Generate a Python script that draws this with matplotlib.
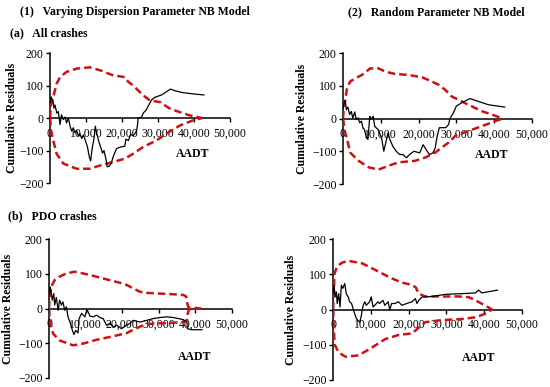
import numpy as np
import matplotlib.pyplot as plt
from matplotlib.ticker import FuncFormatter

plt.rcParams['font.family'] = ['Liberation Serif', 'DejaVu Serif']

# AADT in thousands, cumulative residuals
# (1a) varying dispersion NB, all crashes
vd_all_x = [0, 0.3, 0.5, 0.9, 1.1, 1.4, 1.9, 2.3, 2.8, 3.2, 3.7, 4.2, 4.6, 5.1, 5.6, 6.0, 6.5, 6.9,
            7.4, 7.9, 8.3, 8.8, 9.3, 9.7, 10.4, 10.9, 11.3, 11.7, 12.2, 12.6, 13.0, 13.5, 14.1, 14.6,
            15.0, 15.6, 15.9, 16.5, 17.0, 17.6, 18.5, 19.6, 20.8, 21.1, 21.8, 22.4, 23.1, 23.6, 24.1,
            24.3, 24.5, 25.0, 25.5, 25.9, 26.7, 27.3, 28.2, 29.2, 31.0, 32.4, 33.5, 34.7, 37.0, 40.0, 42.8]
vd_all_y = [45, 65, 60, 50, 30, 40, 15, 20, -20, 10, -5, 3, -15, 0, -25, -40, -30, -45,
            -38, -55, -48, -62, -52, -65, -88, -118, -132, -95, -65, -25, -48, -70, -90, -108,
            -100, -128, -150, -148, -140, -118, -94, -89, -87, -65, -69, -50, -55, -48, -38,
            -23, 0, 1, 3, 15, 24, 37, 55, 64, 71, 81, 89, 84, 78, 74, 71]
vd_all_up_x = [0, 0.3, 0.9, 1.85, 2.8, 4.6, 7.4, 11.1, 13.9, 17.6, 20.8, 21.8, 23.1, 24.5, 25.9,
               27.8, 30.6, 33.3, 36.1, 38.9, 42.3]
vd_all_up_y = [0, 40, 65, 106, 126, 142, 152, 156, 147, 131, 126, 111, 100, 85, 70, 54, 49, 29, 18, 8, 0]
vd_all_lo_x = [0, 0.3, 0.9, 1.85, 3.7, 7.4, 11.1, 13.9, 17.6, 20.8, 23.1, 25.9, 29.6, 32.4, 36.1, 39.8, 42.3]
vd_all_lo_y = [0, -40, -69, -110, -140, -156, -156, -146, -135, -125, -110, -89, -69, -48, -23, -7, 0]

# (2a) random parameter NB, all crashes
rp_all_x = [0, 0.3, 0.6, 0.9, 1.3, 1.76, 2.2, 2.6, 3.1, 3.5, 4.0, 4.4, 4.9, 5.3, 5.7, 6.2, 6.6, 7.1,
            7.5, 8.0, 8.4, 9.3, 10.2, 10.8, 11.2, 11.9, 12.4, 13.2, 14.1, 15.0, 15.9, 16.8, 17.6, 18.8,
            20.3, 21.2, 22.0, 22.9, 23.8, 24.4, 24.9, 25.5, 27.2, 27.95, 28.3, 29.2, 30.0, 31.4, 33.6,
            35.9, 38.5, 42.8]
rp_all_y = [30, 48, 55, 27, 35, 12, 22, 1, 20, -3, 2, -13, -8, -29, -34, -59, -64, 7,
            -2, 7, -24, -34, -59, -100, -80, -44, -64, -85, -100, -110, -110, -120, -110, -100,
            -105, -80, -95, -110, -105, -90, -55, -28, -28, -18, 0, 17, 38, 48, 61,
            52, 42, 35]
rp_all_up_x = [0, 0.2, 0.6, 1.06, 1.9, 3.3, 5.0, 7.2, 9.4, 11.2, 13.8, 17.4, 20.9, 23.5, 25.3, 27.1,
               28.8, 30.6, 33.2, 36.8, 39.4, 42.3]
rp_all_up_y = [0, 30, 57, 92, 113, 123, 133, 153, 153, 143, 136, 133, 126, 113, 103, 87, 67, 57, 42, 22, 12, 0]
rp_all_lo_x = [0, 0.4, 1.06, 1.9, 4.1, 6.8, 9.4, 12.1, 14.7, 19.1, 21.8, 24.4, 26.2, 28.0, 29.7, 33.2,
               36.8, 40.3, 42.3]
rp_all_lo_y = [0, -35, -63, -104, -129, -149, -156, -144, -134, -129, -119, -104, -88, -73, -53, -38,
               -23, -8, 0]

# (1b) varying dispersion NB, PDO crashes
vd_pdo_x = [0, 0.3, 0.5, 0.9, 1.3, 1.55, 2.0, 2.5, 2.9, 3.4, 3.8, 4.3, 4.75, 5.2, 5.85, 6.4, 6.8, 7.3,
            7.95, 8.2, 8.9, 9.8, 10.4, 11.2, 12.1, 13.0, 13.9, 14.8, 15.7, 16.6, 17.6, 18.5, 19.8, 21.2,
            22.1, 23.0, 24.9, 26.7, 28.5, 30.3, 32.2, 34.0, 36.7, 37.7, 37.8, 39.0, 41.8]
vd_pdo_y = [35, 62, 55, 24, 43, 10, 32, -5, 24, 10, 19, -5, 5, -24, -43, -63, -75, -63,
            -70, -30, -14, -24, -3, -22, -24, -19, -26, -29, -48, -43, -53, -48, -58, -48,
            -43, -34, -39, -34, -29, -26, -24, -26, -32, -39, -58, -61, -61]
vd_pdo_up_x = [0, 0.2, 0.6, 1.55, 2.9, 4.75, 7.0, 9.3, 12.1, 15.7, 19.4, 21.2, 23.0, 24.9, 26.7, 30.3,
               34.0, 36.7, 37.5, 37.8, 38.1, 39.5, 41.5]
vd_pdo_up_y = [0, 34, 63, 82, 92, 101, 106, 101, 94, 84, 74, 68, 58, 48, 45, 43, 41, 39, 34, 14, 3, 2, 0]
vd_pdo_lo_x = [0, 0.2, 1.1, 2.9, 6.6, 9.3, 13.0, 16.6, 21.2, 23.0, 25.8, 28.5, 32.2, 36.7, 37.7, 37.9,
               38.3, 41.5]
vd_pdo_lo_y = [0, -34, -72, -92, -106, -101, -90, -82, -71, -61, -48, -43, -42, -39, -34, -14, -2, 0]

# (2b) random parameter NB, PDO crashes
rp_pdo_x = [0, 0.26, 0.6, 0.9, 1.1, 1.5, 1.85, 2.2, 2.6, 3.1, 3.5, 4.0, 4.4, 4.9, 5.3, 5.7, 6.2, 6.6,
            7.1, 7.3, 7.5, 7.7, 8.0, 8.4, 8.8, 9.7, 10.1, 10.6, 11.5, 11.9, 12.3, 13.2, 13.7, 14.6, 15.0,
            15.5, 16.4, 17.3, 18.2, 19.5, 20.9, 21.8, 22.2, 22.7, 23.5, 26.2, 29.7, 34.1, 37.7, 38.5,
            39.4, 43.5]
rp_pdo_y = [45, 69, 36, 50, 17, 45, 7, 69, 60, 74, 45, 36, 22, 17, 3, -11, -26, -31,
            -36, -26, -17, -2, 12, 22, 12, 22, 36, 7, 17, 22, 17, 26, 12, 22, -2,
            17, 17, 22, 12, 17, 22, 31, 17, 26, 35, 37, 43, 45, 47, 55,
            47, 55]
rp_pdo_up_x = [0, 0.2, 0.4, 1.06, 2.4, 4.1, 7.7, 10.3, 13.0, 15.6, 18.3, 20.0, 21.8, 22.7, 24.4, 28.8,
               33.2, 35.9, 37.7, 40.3, 42.1]
rp_pdo_up_y = [0, 55, 102, 122, 133, 138, 131, 117, 102, 88, 76, 72, 64, 45, 37, 37, 37, 35, 26, 11, 0]
rp_pdo_lo_x = [0, 0.4, 1.5, 3.3, 6.8, 10.3, 13.8, 17.4, 20.9, 22.7, 24.4, 28.8, 34.1, 37.7, 40.3, 42.1]
rp_pdo_lo_y = [0, -99, -122, -134, -130, -108, -84, -72, -68, -51, -36, -30, -27, -22, -12, 0]

x_ticks = [0, 10000, 20000, 30000, 40000, 50000]
y_ticks = [-200, -100, 0, 100, 200]

RED = '#d01010'


def draw_panel(ax, bx, by, ux, uy, lx, ly, aadt_xy, ylab_x):
    ax.plot(np.array(ux) * 1000, uy, color=RED, lw=1.8, ls=(0, (3, 1.6)), zorder=3)
    ax.plot(np.array(lx) * 1000, ly, color=RED, lw=1.8, ls=(0, (3, 1.6)), zorder=3)
    ax.plot(np.array(bx) * 1000, by, color='black', lw=0.9, zorder=4)
    ax.set_xlim(0, 50000)
    ax.set_ylim(-200, 200)
    ax.spines['top'].set_visible(False)
    ax.spines['right'].set_visible(False)
    ax.spines['bottom'].set_position(('data', 0))
    ax.spines['left'].set_linewidth(1.1)
    ax.spines['bottom'].set_linewidth(1.1)
    ax.set_xticks(x_ticks)
    ax.set_yticks(y_ticks)
    ax.xaxis.set_major_formatter(FuncFormatter(lambda v, p: f'{int(v):,}'))
    ax.tick_params(direction='out', length=3, width=1, labelsize=8.5, pad=1.5)
    ax.tick_params(axis='x', pad=4)
    ax.set_ylabel('Cumulative Residuals', fontsize=8.5, fontweight='bold')
    ax.yaxis.set_label_coords(ylab_x, 0.5)
    ax.text(aadt_xy[0], aadt_xy[1], 'AADT', transform=ax.transAxes, fontsize=8.5,
            fontweight='bold', ha='center', va='center')


fig = plt.figure(figsize=(5.5, 3.87), dpi=100)
ax1 = fig.add_axes([0.0909, 0.527, 0.327, 0.336])
ax2 = fig.add_axes([0.6236, 0.5245, 0.3436, 0.3385])
ax3 = fig.add_axes([0.0891, 0.0233, 0.3327, 0.359])
ax4 = fig.add_axes([0.6055, 0.0181, 0.3436, 0.3643])

draw_panel(ax1, vd_all_x, vd_all_y, vd_all_up_x, vd_all_up_y, vd_all_lo_x, vd_all_lo_y, (0.794, 0.223), -0.178)
draw_panel(ax2, rp_all_x, rp_all_y, rp_all_up_x, rp_all_up_y, rp_all_lo_x, rp_all_lo_y, (0.788, 0.221), -0.185)
draw_panel(ax3, vd_pdo_x, vd_pdo_y, vd_pdo_up_x, vd_pdo_up_y, vd_pdo_lo_x, vd_pdo_lo_y, (0.798, 0.153), -0.191)
draw_panel(ax4, rp_pdo_x, rp_pdo_y, rp_pdo_up_x, rp_pdo_up_y, rp_pdo_lo_x, rp_pdo_lo_y, (0.769, 0.154), -0.19)

fig.text(20 / 550, 1 - 12 / 387, '(1)   Varying Dispersion Parameter NB Model', fontsize=8.5,
         fontweight='bold', va='center')
fig.text(348 / 550, 1 - 12 / 387, '(2)   Random Parameter NB Model', fontsize=8.5,
         fontweight='bold', va='center')
fig.text(10 / 550, 1 - 33 / 387, '(a)   All crashes', fontsize=8.5, fontweight='bold', va='center')
fig.text(8 / 550, 1 - 216 / 387, '(b)   PDO crashes', fontsize=8.5, fontweight='bold', va='center')

fig.savefig('out.png', dpi=100)
